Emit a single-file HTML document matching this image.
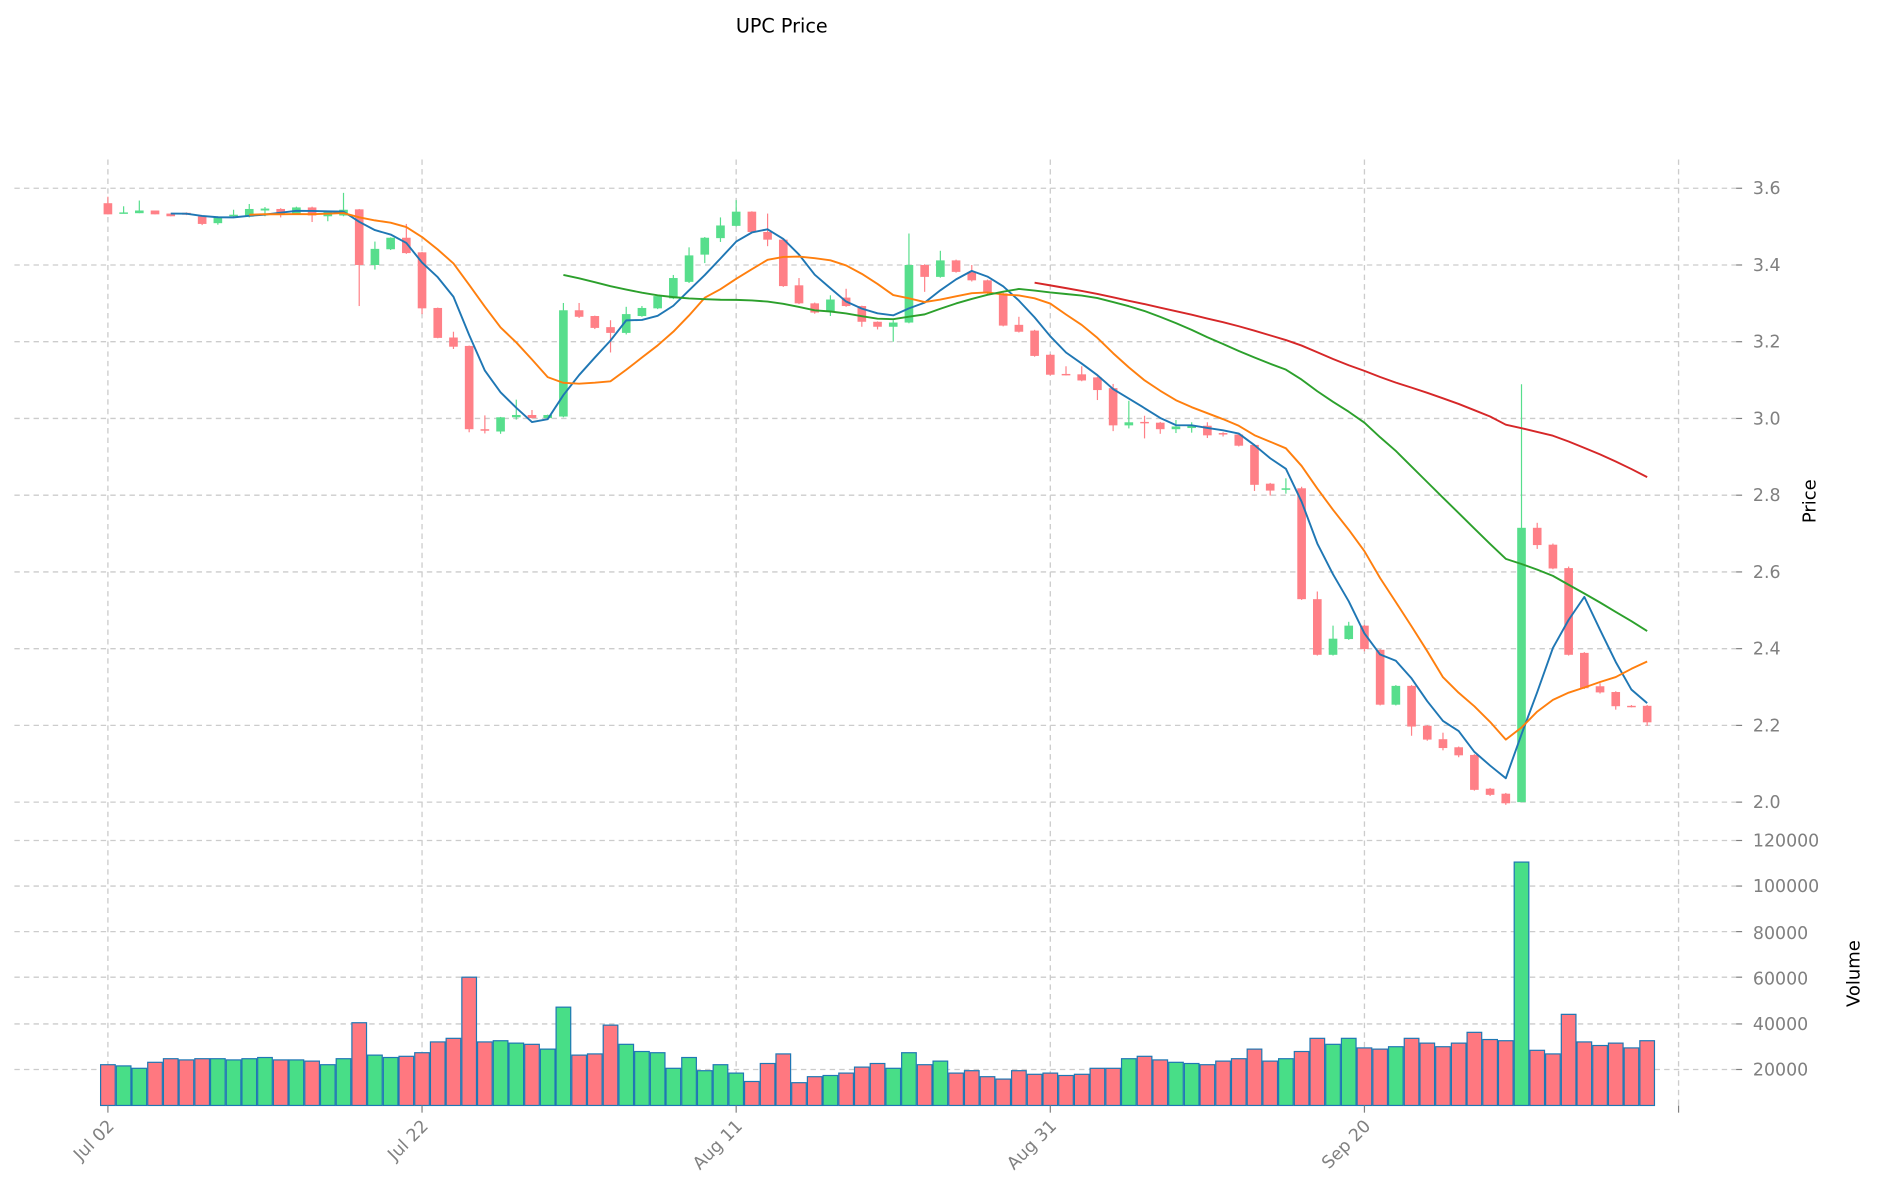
<!DOCTYPE html>
<html><head><meta charset="utf-8"><style>
html,body{margin:0;padding:0;background:#fff;}
svg{display:block;}
text{font-family:"DejaVu Sans","Liberation Sans",sans-serif;}
</style></head><body>
<svg id="s" width="1880" height="1202" viewBox="0 0 1568 1002.5" xmlns="http://www.w3.org/2000/svg">
<rect width="1568" height="1002.5" fill="#fff"/>
<g id="grid" stroke="#cccccc" stroke-width="1.1" stroke-dasharray="4.5,3.5" fill="none"></g>
<g id="vol"></g>
<g id="cand"></g>
<g id="ma" fill="none" stroke-width="1.6" stroke-linejoin="round"></g>
<g id="ticks" stroke="#808080" stroke-width="1"></g>
<g fill="#808080" font-size="14.5">
<text x="1462" y="162">3.6</text><text x="1462" y="226">3.4</text><text x="1462" y="290">3.2</text>
<text x="1462" y="354">3.0</text><text x="1462" y="418">2.8</text><text x="1462" y="482">2.6</text>
<text x="1462" y="546">2.4</text><text x="1462" y="610">2.2</text><text x="1462" y="674">2.0</text>
<text x="1462" y="706">120000</text><text x="1462" y="744">100000</text><text x="1462" y="783">80000</text>
<text x="1462" y="821">60000</text><text x="1462" y="859">40000</text><text x="1462" y="897">20000</text>
<text transform="translate(96,940) rotate(-45)" text-anchor="end">Jul 02</text>
<text transform="translate(358,940) rotate(-45)" text-anchor="end">Jul 22</text>
<text transform="translate(620,940) rotate(-45)" text-anchor="end">Aug 11</text>
<text transform="translate(882,940) rotate(-45)" text-anchor="end">Aug 31</text>
<text transform="translate(1144,940) rotate(-45)" text-anchor="end">Sep 20</text>
</g>
<text x="652" y="27" font-size="16" text-anchor="middle" fill="#000">UPC Price</text>
<text transform="translate(1514,418) rotate(-90)" font-size="15" text-anchor="middle" fill="#000">Price</text>
<text transform="translate(1551,812) rotate(-90)" font-size="15" text-anchor="middle" fill="#000">Volume</text>
</svg>
<script>
var D=[[3.561,3.532,3.578,3.532],[3.536,3.537,3.553,3.534],[3.535,3.542,3.568,3.535],[3.542,3.532,3.542,3.532],[3.534,3.527,3.534,3.527],[3.536,3.531,3.537,3.530],[3.527,3.507,3.527,3.504],[3.509,3.525,3.527,3.505],[3.527,3.531,3.544,3.525],[3.526,3.546,3.559,3.524],[3.542,3.547,3.551,3.527],[3.546,3.533,3.548,3.524],[3.533,3.550,3.552,3.531],[3.550,3.529,3.552,3.512],[3.527,3.540,3.541,3.514],[3.529,3.544,3.588,3.527],[3.545,3.400,3.546,3.293],[3.400,3.442,3.461,3.388],[3.441,3.471,3.472,3.439],[3.471,3.431,3.507,3.429],[3.433,3.287,3.434,3.272],[3.288,3.210,3.289,3.209],[3.211,3.187,3.226,3.181],[3.189,2.972,3.190,2.964],[2.972,2.968,3.008,2.961],[2.966,3.003,3.004,2.960],[3.003,3.009,3.049,2.997],[3.009,3.001,3.022,3.000],[3.001,3.009,3.010,2.998],[3.005,3.282,3.301,3.003],[3.282,3.265,3.301,3.262],[3.267,3.236,3.268,3.233],[3.238,3.223,3.256,3.172],[3.223,3.272,3.291,3.219],[3.267,3.288,3.293,3.265],[3.287,3.319,3.321,3.285],[3.313,3.366,3.374,3.311],[3.356,3.425,3.446,3.353],[3.427,3.471,3.473,3.405],[3.470,3.503,3.524,3.46],[3.502,3.539,3.569,3.500],[3.539,3.486,3.540,3.484],[3.486,3.466,3.534,3.449],[3.466,3.345,3.467,3.343],[3.347,3.300,3.366,3.298],[3.300,3.276,3.302,3.273],[3.280,3.310,3.321,3.267],[3.315,3.293,3.338,3.291],[3.293,3.252,3.294,3.239],[3.252,3.239,3.253,3.232],[3.239,3.250,3.256,3.200],[3.250,3.400,3.482,3.248],[3.400,3.369,3.402,3.330],[3.369,3.412,3.437,3.367],[3.412,3.382,3.414,3.380],[3.382,3.360,3.400,3.357],[3.360,3.326,3.362,3.324],[3.326,3.242,3.328,3.240],[3.244,3.226,3.265,3.224],[3.229,3.163,3.231,3.161],[3.166,3.114,3.168,3.112],[3.116,3.114,3.136,3.112],[3.115,3.099,3.136,3.097],[3.107,3.074,3.109,3.048],[3.079,2.982,3.090,2.967],[2.982,2.990,3.046,2.974],[2.991,2.989,3.007,2.948],[2.989,2.972,2.991,2.960],[2.972,2.979,2.996,2.962],[2.975,2.981,2.990,2.963],[2.981,2.956,2.990,2.949],[2.962,2.958,2.964,2.953],[2.958,2.929,2.960,2.927],[2.931,2.827,2.933,2.811],[2.830,2.812,2.832,2.799],[2.814,2.818,2.844,2.804],[2.818,2.529,2.822,2.527],[2.529,2.384,2.549,2.382],[2.384,2.426,2.460,2.382],[2.425,2.460,2.470,2.423],[2.460,2.399,2.462,2.393],[2.397,2.254,2.399,2.252],[2.254,2.303,2.305,2.252],[2.303,2.197,2.305,2.173],[2.199,2.163,2.201,2.160],[2.164,2.141,2.181,2.135],[2.143,2.122,2.145,2.117],[2.123,2.032,2.125,2.030],[2.035,2.019,2.037,2.016],[2.022,1.997,2.024,1.993],[2.000,2.715,3.089,2.000],[2.715,2.670,2.728,2.660],[2.671,2.609,2.674,2.607],[2.610,2.384,2.614,2.382],[2.389,2.297,2.391,2.295],[2.302,2.286,2.310,2.283],[2.287,2.250,2.289,2.241],[2.251,2.249,2.253,2.247],[2.251,2.208,2.253,2.199]];
var V=[888,889,891,886,883,884,883,883,884,883,882,884,884,885,888,883,853,880,882,881,878,869,866,815,869,868,870,871,875,840,880,879,855,871,877,878,891,882,893,888,895,902,887,879,903,898,897,895,890,887,891,878,888,885,895,893,898,900,893,896,895,897,896,891,891,883,881,884,886,887,888,885,883,875,885,883,877,866,871,866,874,875,873,866,870,873,870,861,867,868,719,876,879,846,869,872,870,874,868];
var NS="http://www.w3.org/2000/svg";
function el(p,t,a){var e=document.createElementNS(NS,t);for(var k in a)e.setAttribute(k,a[k]);p.appendChild(e);return e;}
function X(i){return 90+13.1*i;}
function Y(p){return 157+(3.6-p)*320;}
var G=document.getElementById('grid'),T=document.getElementById('ticks');
[3.6,3.4,3.2,3.0,2.8,2.6,2.4,2.2,2.0].forEach(function(p){var y=Y(p);el(G,'line',{x1:12,x2:1448,y1:y,y2:y});el(T,'line',{x1:1448,x2:1453,y1:y,y2:y});});
[701,739,777,815,854,892].forEach(function(y){el(G,'line',{x1:12,x2:1448,y1:y,y2:y});el(T,'line',{x1:1448,x2:1453,y1:y,y2:y});});
[0,20,40,60,80,100].forEach(function(i){var x=X(i);el(G,'line',{x1:x,x2:x,y1:133,y2:922});el(T,'line',{x1:x,x2:x,y1:922,y2:928});});
var Cg=document.getElementById('cand'),Vg=document.getElementById('vol');
D.forEach(function(d,i){var up=d[1]>=d[0];var col=up?'#57de8c':'#ff8087';var x=X(i);
el(Cg,'line',{x1:x,x2:x,y1:Y(d[2]),y2:Y(d[3]),stroke:col,'stroke-width':1});
var t=Y(Math.max(d[0],d[1])),b=Y(Math.min(d[0],d[1]));if(b-t<1.2)b=t+1.2;
el(Cg,'rect',{x:x-3.6,y:t,width:7.2,height:b-t,fill:col});
var vc=up?'#48de87':'#ff7880';
el(Vg,'rect',{x:x-6.1,y:V[i],width:12.2,height:922-V[i],fill:vc,stroke:'#1f77b4','stroke-width':1});
});
var M=document.getElementById('ma');
[[5,'#1f77b4'],[10,'#ff7f0e'],[30,'#2ca02c'],[60,'#d62728']].forEach(function(m){var n=m[0],pts=[];
for(var i=n-1;i<D.length;i++){var s=0;for(var j=i-n+1;j<=i;j++)s+=D[j][1];pts.push(X(i).toFixed(1)+','+Y(s/n).toFixed(1));}
el(M,'polyline',{points:pts.join(' '),stroke:m[1]});});
</script>
</body></html>
